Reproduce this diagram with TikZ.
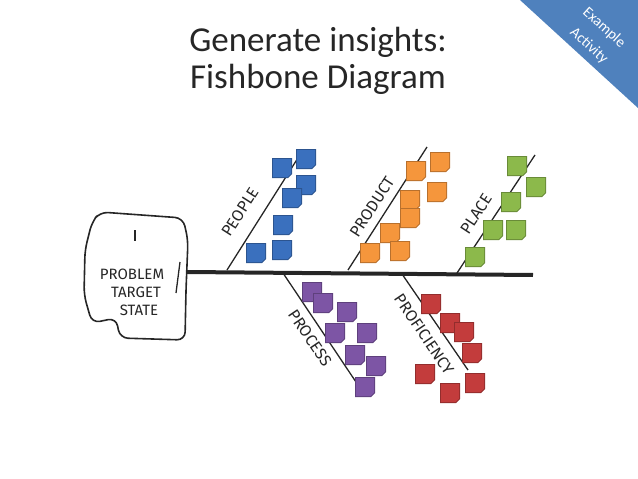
\documentclass[tikz,border=0pt]{standalone}
\usepackage{fontspec}
\setmainfont{Carlito}
\newfontfamily\hand{Fira Sans}
\begin{document}
\begin{tikzpicture}[x=1pt,y=-1pt,
  bone/.style={line width=1.3pt,black!85},
  lbl/.style={font=\hand\fontsize{16}{16}\selectfont, inner sep=0pt, text=black!85},
  hlbl/.style={font=\hand\fontsize{15}{15}\selectfont, inner sep=0pt, text=black!85},
]
\useasboundingbox (0,0) rectangle (638,479);
\definecolor{nblue}{RGB}{58,112,190}
\definecolor{norange}{RGB}{245,150,60}
\definecolor{ngreen}{RGB}{140,185,75}
\definecolor{npurple}{RGB}{125,85,165}
\definecolor{nred}{RGB}{195,60,60}
\definecolor{banner}{RGB}{79,129,189}
\newcommand{\note}[3]{%
  \fill[#1!75!black] (#2-10,#3-10) -- (#2+10,#3-10) -- (#2+10,#3+6) -- (#2+6,#3+10) -- (#2-10,#3+10) -- cycle;
  \fill[#1] (#2-9,#3-9) -- (#2+9,#3-9) -- (#2+9,#3+5.5) -- (#2+5.5,#3+9) -- (#2-9,#3+9) -- cycle;}
% banner
\fill[banner] (520,0) -- (638,0) -- (638,108) -- cycle;
\node[text=white,rotate=-42,inner sep=0pt,font=\fontsize{15}{15}\selectfont] (ex) at (604,28) {Example};
\node[text=white,rotate=-42,inner sep=0pt,font=\fontsize{15}{15}\selectfont] (ac) at (589,46) {Activity};
% title
\node[font=\fontsize{35}{35}\selectfont, text=black!85] (t1) at (318,42) {Generate insights:};
\node[font=\fontsize{35}{35}\selectfont, text=black!85] (t2) at (318,79) {Fishbone Diagram};
% head
\draw[line width=1.6pt, black!85, rounded corners=8pt] (100,212) -- (183,218) -- (188,240) -- (186,290) -- (185,340) -- (120,338) -- (116,318) -- (92,323) -- (84,295) -- (85,250) -- (92,222) -- cycle;
\draw[line width=2.6pt,black!85] (135,230) -- (135,241);
\draw[line width=1.3pt,black!85] (180,262) -- (176,293);
\node[hlbl] (h1) at (132,274) {PROBLEM};
\node[hlbl] (h2) at (136,292) {TARGET};
\node[hlbl] (h3) at (139,310) {STATE};
% spine
\coordinate (s0) at (187,272);
\coordinate (s1) at (533,275);
\draw[line width=4pt,black!85] (s0) -- (s1);
% bones
\coordinate (pa) at (227,270); \coordinate (pb) at (303,150);
\coordinate (ra) at (348,270); \coordinate (rb) at (427,147);
\coordinate (la) at (457,273); \coordinate (lb) at (535,155);
\coordinate (ca) at (283,273); \coordinate (cb) at (360,388);
\coordinate (fa) at (402,274); \coordinate (fb) at (468,370);
\draw[bone] (pa) -- (pb); \draw[bone] (ra) -- (rb); \draw[bone] (la) -- (lb);
\draw[bone] (ca) -- (cb); \draw[bone] (fa) -- (fb);
\node[lbl,rotate=57.5] (lp) at (240,212) {PEOPLE};
\node[lbl,rotate=57] (lr) at (372,207) {PRODUCT};
\node[lbl,rotate=56.5] (ll) at (476,214) {PLACE};
\node[lbl,rotate=-56] (lc) at (310,338) {PROCESS};
\node[lbl,rotate=-56] (lf) at (424,334) {PROFICIENCY};
% notes
\note{nblue}{306}{159}\note{nblue}{282}{168}\note{nblue}{306}{185}\note{nblue}{292}{198}
\note{nblue}{283}{225}\note{nblue}{282}{250}\note{nblue}{256}{253}
\note{norange}{440}{162}\note{norange}{416}{171}\note{norange}{437}{192}\note{norange}{410}{200}
\note{norange}{410}{218}\note{norange}{390}{233}\note{norange}{370}{253}\note{norange}{400}{251}
\note{ngreen}{517}{166}\note{ngreen}{536}{187}\note{ngreen}{511}{202}\note{ngreen}{493}{230}
\note{ngreen}{516}{230}\note{ngreen}{475}{257}
\note{npurple}{312}{292}\note{npurple}{323}{303}\note{npurple}{347}{312}\note{npurple}{335}{333}
\note{npurple}{367}{333}\note{npurple}{355}{355}\note{npurple}{376}{366}\note{npurple}{365}{387}
\note{nred}{431}{304}\note{nred}{450}{323}\note{nred}{464}{332}\note{nred}{472}{353}
\note{nred}{425}{374}\note{nred}{475}{383}\note{nred}{450}{393}
\end{tikzpicture}
\end{document}
